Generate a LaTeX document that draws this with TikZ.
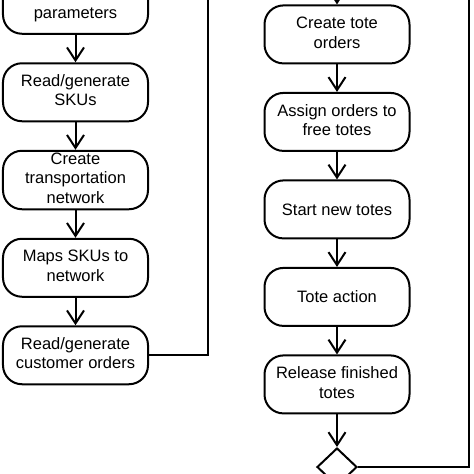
\documentclass[tikz,border=0pt]{standalone}
\usepackage{fontspec}
\setmainfont{Liberation Sans}
\usetikzlibrary{matrix}
\usetikzlibrary{shapes.geometric}
\usetikzlibrary{arrows.meta}

\newcommand{\boxlines}[1]{\begin{tabular}{@{}c@{}}#1\end{tabular}}

\tikzset{
  actbox/.style={draw, line width=2pt, rounded corners=19pt,
    minimum width=145pt, minimum height=58pt, inner xsep=2pt, inner ysep=0pt},
  decision/.style={draw, diamond, sharp corners, line width=2pt, minimum width=40pt,
    minimum height=38pt, inner sep=0pt},
  flow/.style={line width=2pt, -{Straight Barb[length=13pt, width=17pt, line width=2pt]}},
  loop/.style={line width=2pt}
}

\begin{document}
\begin{tikzpicture}[x=1pt, y=-1pt, font=\fontsize{16.5}{19.5}\selectfont]
\useasboundingbox (0,0) rectangle (474,474);

\matrix (l) at (75.5,180) [matrix of nodes, ampersand replacement=\&, row sep=27.5pt,
  nodes={actbox, anchor=center}] {
\boxlines{Set simulation\\parameters} \\
\boxlines{Read/generate\\SKUs} \\
\boxlines{Create\\transportation\\network} \\
\boxlines{Maps SKUs to\\network} \\
\boxlines{Read/generate\\customer orders} \\
};

\matrix (r) at (337,245.5) [matrix of nodes, ampersand replacement=\&, row sep=27.5pt,
  nodes={actbox, anchor=center}] {
\boxlines{Create tote\\orders} \\
\boxlines{Assign orders to\\free totes} \\
Start new totes \\
Tote action \\
\boxlines{Release finished\\totes} \\[5.5pt]
|[decision]| \\
};

\coordinate (ltop) at (208,-3);
\coordinate (rtop) at (337,-3);
\coordinate (rfar) at (468.5,-3);

\foreach \i/\j in {1/2, 2/3, 3/4, 4/5}
    \draw[flow] (l-\i-1) -- (l-\j-1);
\foreach \i/\j in {1/2, 2/3, 3/4, 4/5, 5/6}
    \draw[flow] (r-\i-1) -- (r-\j-1);

\draw[loop] (l-5-1.east) -| (ltop);
\draw[flow] (rtop) -- (r-1-1);
\draw[loop] (r-6-1.east) -| (rfar);
%
\end{tikzpicture}
\end{document}
